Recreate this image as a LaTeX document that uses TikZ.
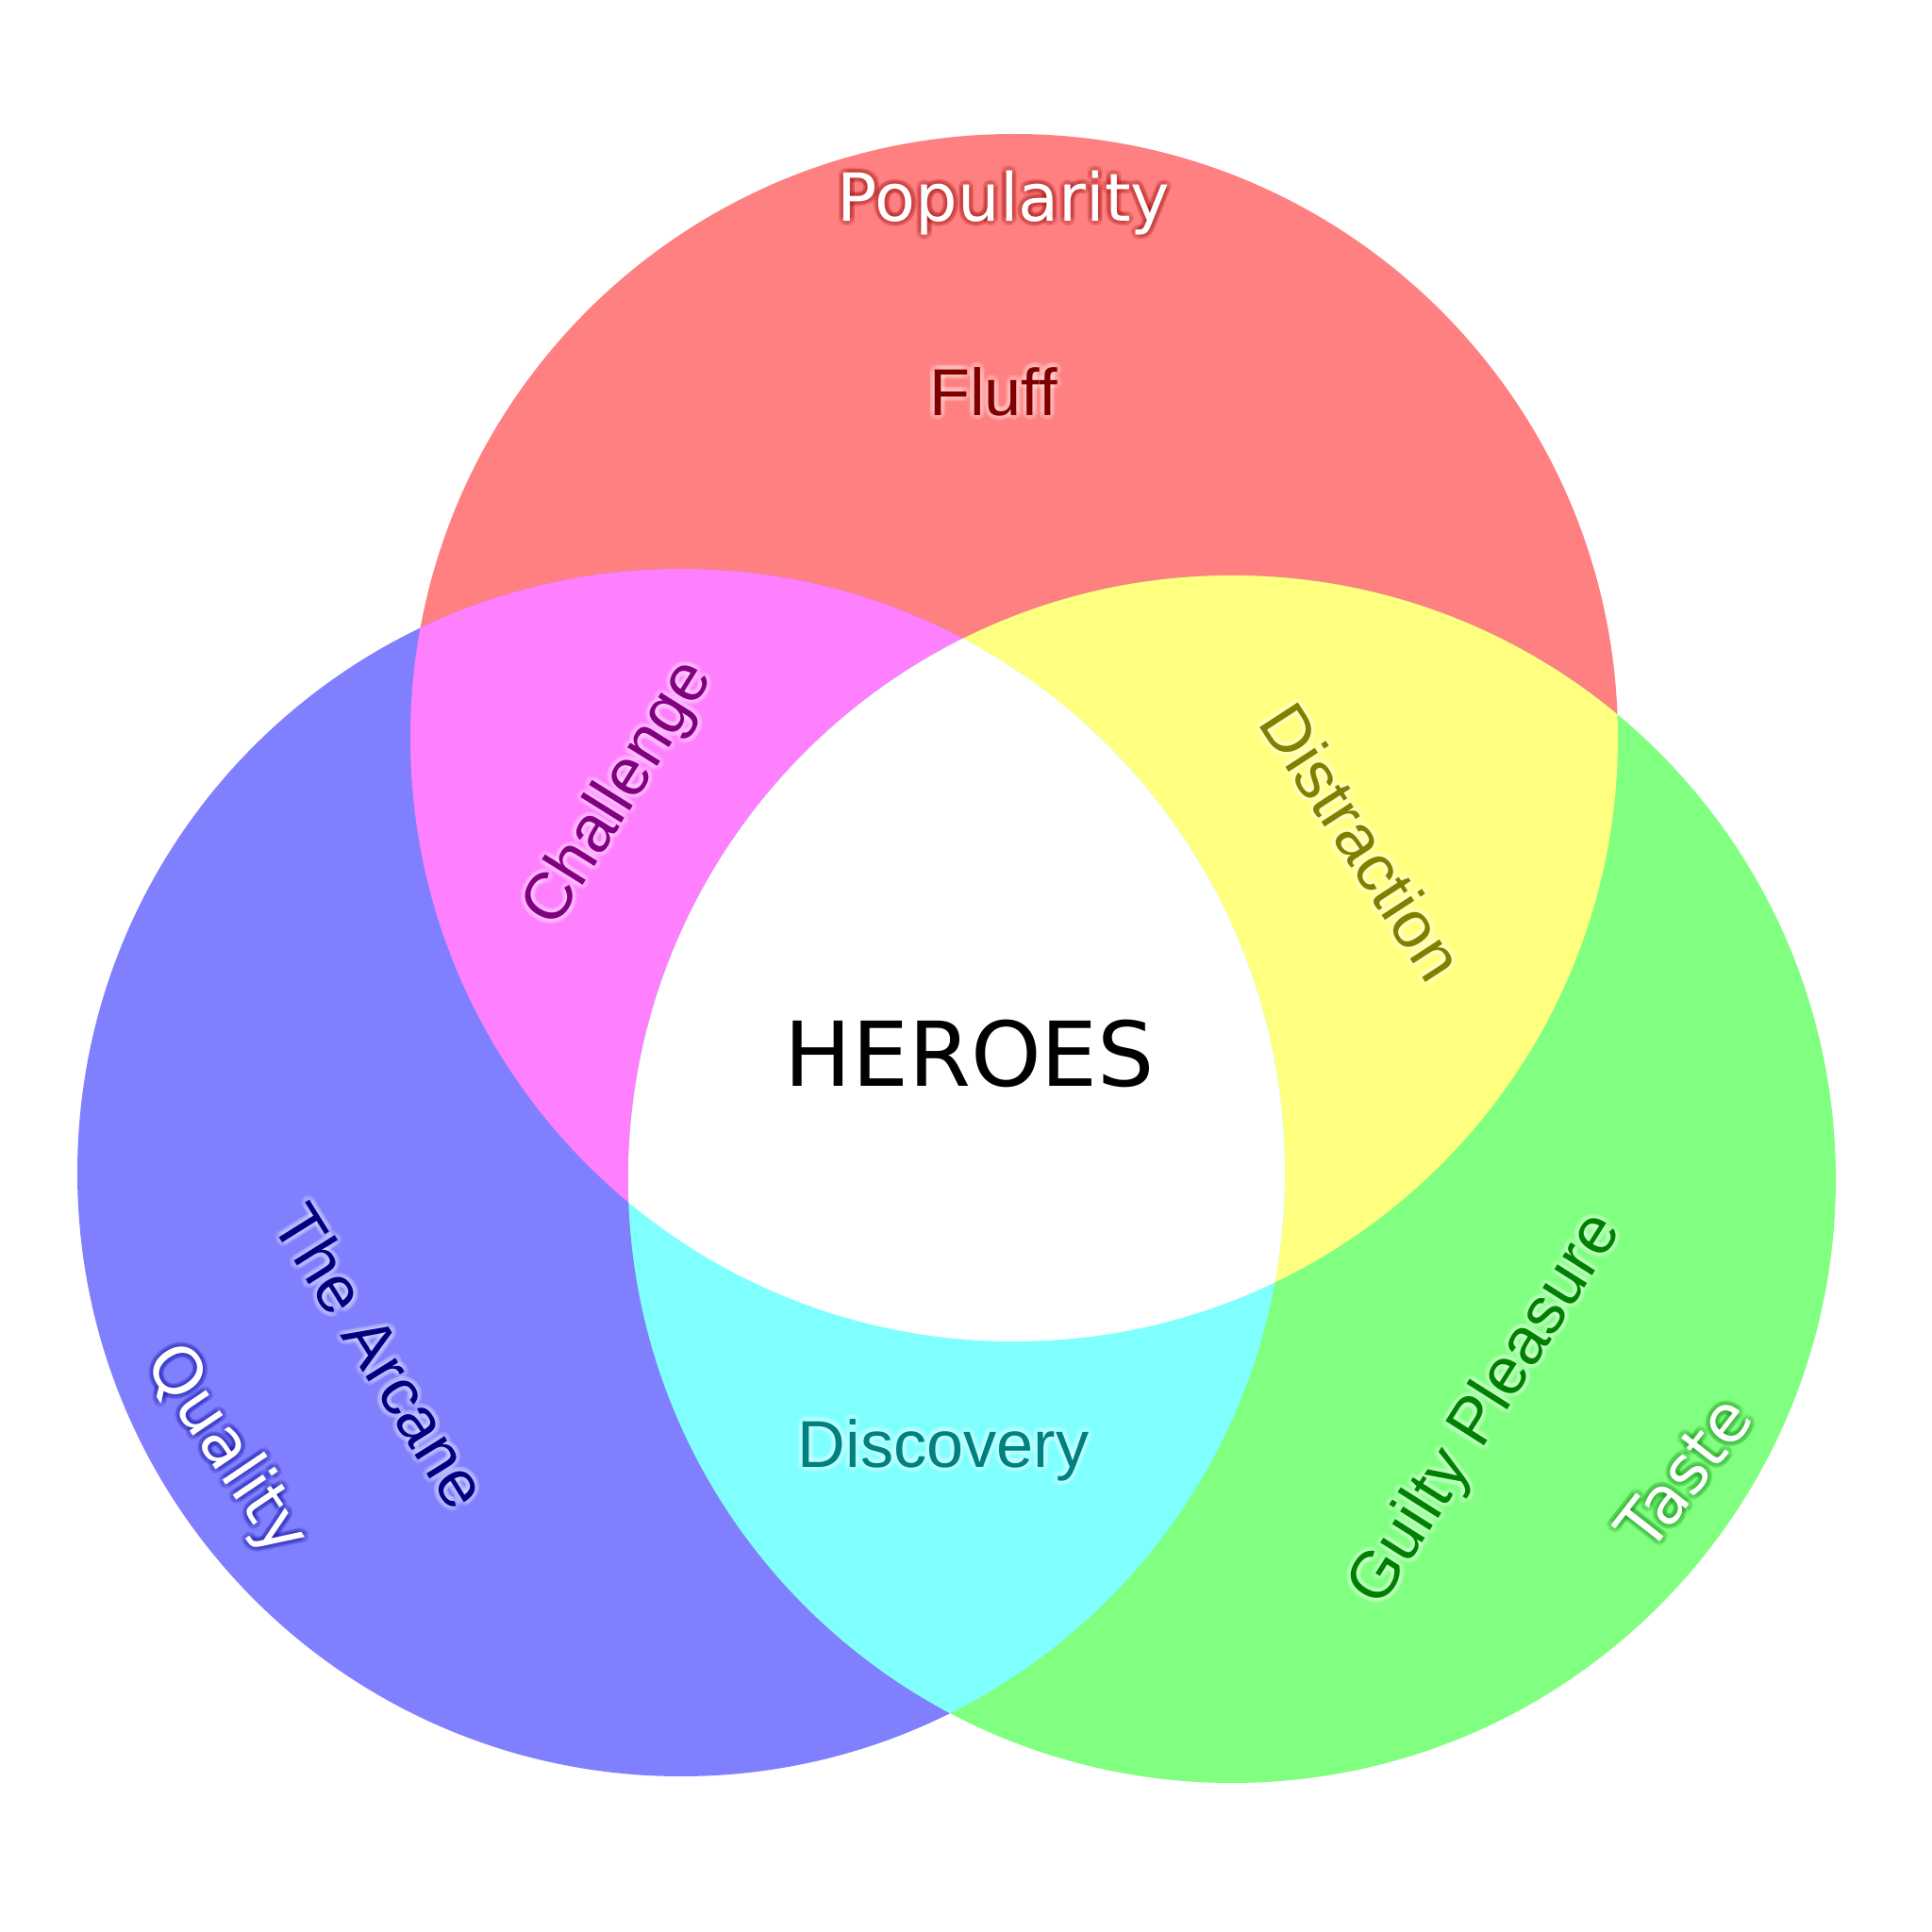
\documentclass[tikz,border=0pt]{standalone}
\usepackage{fontspec}
\setmainfont{Liberation Sans}
\newfontfamily\outerfont{DejaVu Sans}
\usetikzlibrary{positioning, calc}

\definecolor{redset}{HTML}{FF8080}
\definecolor{blueset}{HTML}{8080FF}
\definecolor{greenset}{HTML}{80FF80}
\definecolor{magentaset}{HTML}{FF80FF}
\definecolor{yellowset}{HTML}{FFFF80}
\definecolor{cyanset}{HTML}{80FFFF}

% ぼかし風の縁取り付きラベル（オプション, 名前, 位置, 縁の色, 文字）
\newcommand{\glownode}[5]{%
  \foreach \ga in {0,30,...,330}
    \node[#1, text=#4, text opacity=0.12, shift={(\ga:0.05)}] at (#3) {#5};
  \node[#1] (#2) at (#3) {#5};
}

\begin{document}
\begin{tikzpicture}[
    inner/.style={font=\fontsize{20}{24}\selectfont},          % 重なり部分のラベル
    outer/.style={font=\outerfont\fontsize{20}{24}\selectfont} % 外側のラベル
]
    \useasboundingbox (0,0) rectangle (20.48,20.48);
    \def\rad{6.4}

    % --- 1. 三つの円 ---
    \coordinate (popC)  at (10.75, 12.66);
    \coordinate (qualC) at (7.22, 8.05);
    \coordinate (tastC) at (13.06, 7.98);

    \fill [redset]   (popC)  circle (\rad);
    \fill [blueset]  (qualC) circle (\rad);
    \fill [greenset] (tastC) circle (\rad);

    % --- 2. 重なり部分（clipで塗り分け） ---
    \begin{scope}
        \clip (popC) circle (\rad);
        \fill [magentaset] (qualC) circle (\rad);
    \end{scope}
    \begin{scope}
        \clip (popC) circle (\rad);
        \fill [yellowset] (tastC) circle (\rad);
    \end{scope}
    \begin{scope}
        \clip (qualC) circle (\rad);
        \fill [cyanset] (tastC) circle (\rad);
    \end{scope}
    % 【中央】三つとも重なる部分は白
    \begin{scope}
        \clip (popC) circle (\rad);
        \clip (qualC) circle (\rad);
        \fill [white] (tastC) circle (\rad);
    \end{scope}

    % --- 3. ラベル ---
    \glownode{outer, text=white}{popularity}{10.64, 18.33}{red!60!black}{Popularity}
    \glownode{outer, text=white, rotate=-56}{quality}{2.39, 5.10}{blue!60!black}{Quality}
    \glownode{outer, text=white, rotate=52}{taste}{17.85, 4.87}{green!50!black}{Taste}

    \glownode{inner, text={rgb,255:red,128;green,0;blue,0}}{fluff}{10.53, 16.33}{white}{Fluff}
    \glownode{inner, text={rgb,255:red,128;green,0;blue,128}, rotate=58}{challenge}{6.57, 12.06}{white}{Challenge}
    \glownode{inner, text={rgb,255:red,128;green,128;blue,0}, rotate=-57}{distraction}{14.44, 11.56}{white}{Distraction}
    \glownode{inner, text={rgb,255:red,0;green,128;blue,128}}{discovery}{10.00, 5.11}{white}{Discovery}
    \glownode{inner, text={rgb,255:red,0;green,0;blue,128}, rotate=-58}{arcane}{4.04, 6.11}{white}{The Arcane}
    \glownode{inner, text={rgb,255:red,0;green,128;blue,0}, rotate=57.6}{guilty}{15.76, 5.53}{white}{Guilty Pleasure}

    % 【中央：HEROES】
    \node [font=\outerfont\fontsize{27}{32}\selectfont] (heroes) at (10.28, 9.31) {HEROES};

\end{tikzpicture}
\end{document}
